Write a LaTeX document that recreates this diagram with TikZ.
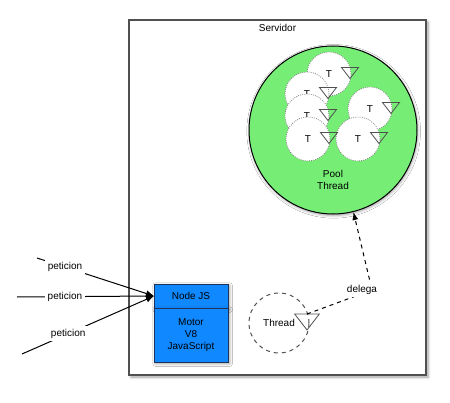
\documentclass[tikz,border=0pt]{standalone}
\usepackage{fontspec}
\setmainfont{Liberation Sans}
\usetikzlibrary{arrows.meta}
\usetikzlibrary{positioning}
\usetikzlibrary{shadows.blur}

\definecolor{poolgreen}{RGB}{118,238,118}
\definecolor{jsblue}{RGB}{16,136,255}
\definecolor{jsedge}{RGB}{30,50,90}
\definecolor{edgegray}{RGB}{80,80,80}

\tikzset{
  lbl/.style={fill=white, inner sep=2pt},
  txt/.style={inner sep=0.75pt, align=center},
  req/.style={line width=0.75, -{Latex[length=6pt,width=5pt]}},
  dlg/.style={dashed, line width=0.75, -{Latex[length=6pt,width=4.5pt]}},
  tcirc/.style={circle, fill=white, draw=gray, densely dotted, line width=0.6, minimum size=33pt, inner sep=0pt},
  jsbox/.style={draw=jsedge, fill=jsblue, minimum width=55.5pt, inner sep=0pt, outer sep=0pt, align=center, line width=0.75,
    blur shadow={shadow xshift=1.2pt, shadow yshift=-1.2pt, shadow blur steps=4}},
  tri/.pic={\draw[edgegray, line width=0.6] (-8.5,5.5) -- (8.5,5.5) -- (0,-5.5) -- cycle;},
}

\begin{document}
\begin{tikzpicture}[x=0.75pt,y=0.75pt,yscale=-1,xscale=1, font=\fontsize{7.5}{9}\selectfont]
\useasboundingbox (0,0) rectangle (450,403);

%Shape: Rectangle
\node [draw=edgegray, fill=white, line width=0.8, minimum width=222.75pt, minimum height=266.25pt,
  blur shadow={shadow xshift=1.5pt, shadow yshift=-1.5pt, shadow blur steps=5}] (srv) at (277.5,197.5) {};
% Text Node
\node [txt, below=3pt of srv.north] (srvlbl) {Servidor};

%Shape: Circle
\node [circle, draw, fill=poolgreen, line width=0.75, minimum size=126pt,
  blur shadow={shadow xshift=0.5pt, shadow yshift=-1pt, shadow blur steps=3}] (pool) at (333,130) {};
%Shape: Circle (threads)
\foreach \x/\y [count=\i] in {329/74, 307/94, 307/116, 308/139, 370/109, 358/139} {
  \node [tcirc] (t\i) at (\x,\y) {T};
}
\foreach \x/\y in {329/74, 307/94, 307/116, 308/139, 370/109, 358/139} {
  \pic at (\x+21,\y-1) {tri};
}
% Text Node
\node [txt] (poollbl) at (333,180) {Pool\\Thread};

%Shape: Circle
\node [circle, draw=edgegray, dashed, line width=0.75, minimum size=45pt, inner sep=0pt] (thread) at (279,323) {Thread};
\pic [scale=1.45] at (307,322) {tri};
\coordinate (thtop) at (307,314);
\coordinate (dgc) at (372,290);

%Straight Lines
\draw [dlg] (thtop) -- (dgc) -- (pool.-76);
% Text Node
\node [lbl] (delega) at (362,290) {delega};

%Shape: Rectangle
\node [jsbox, minimum height=18pt] (nodejs) at (191,296) {Node JS};
\node [jsbox, minimum height=40.5pt, below=0pt of nodejs] (motor) {Motor\\V8\\JavaScript};

%Straight Lines
\coordinate (p1) at (37,258);
\coordinate (p2) at (17,297);
\coordinate (p3) at (22,354);
\draw [req] (p1) -- (nodejs.west) node [lbl, pos=0.24] (pet1) {peticion};
\draw [req] (p2) -- (nodejs.west) node [lbl, pos=0.35] (pet2) {peticion};
\draw [req] (p3) -- (nodejs.west) node [lbl, pos=0.35] (pet3) {peticion};

\end{tikzpicture}
\end{document}
